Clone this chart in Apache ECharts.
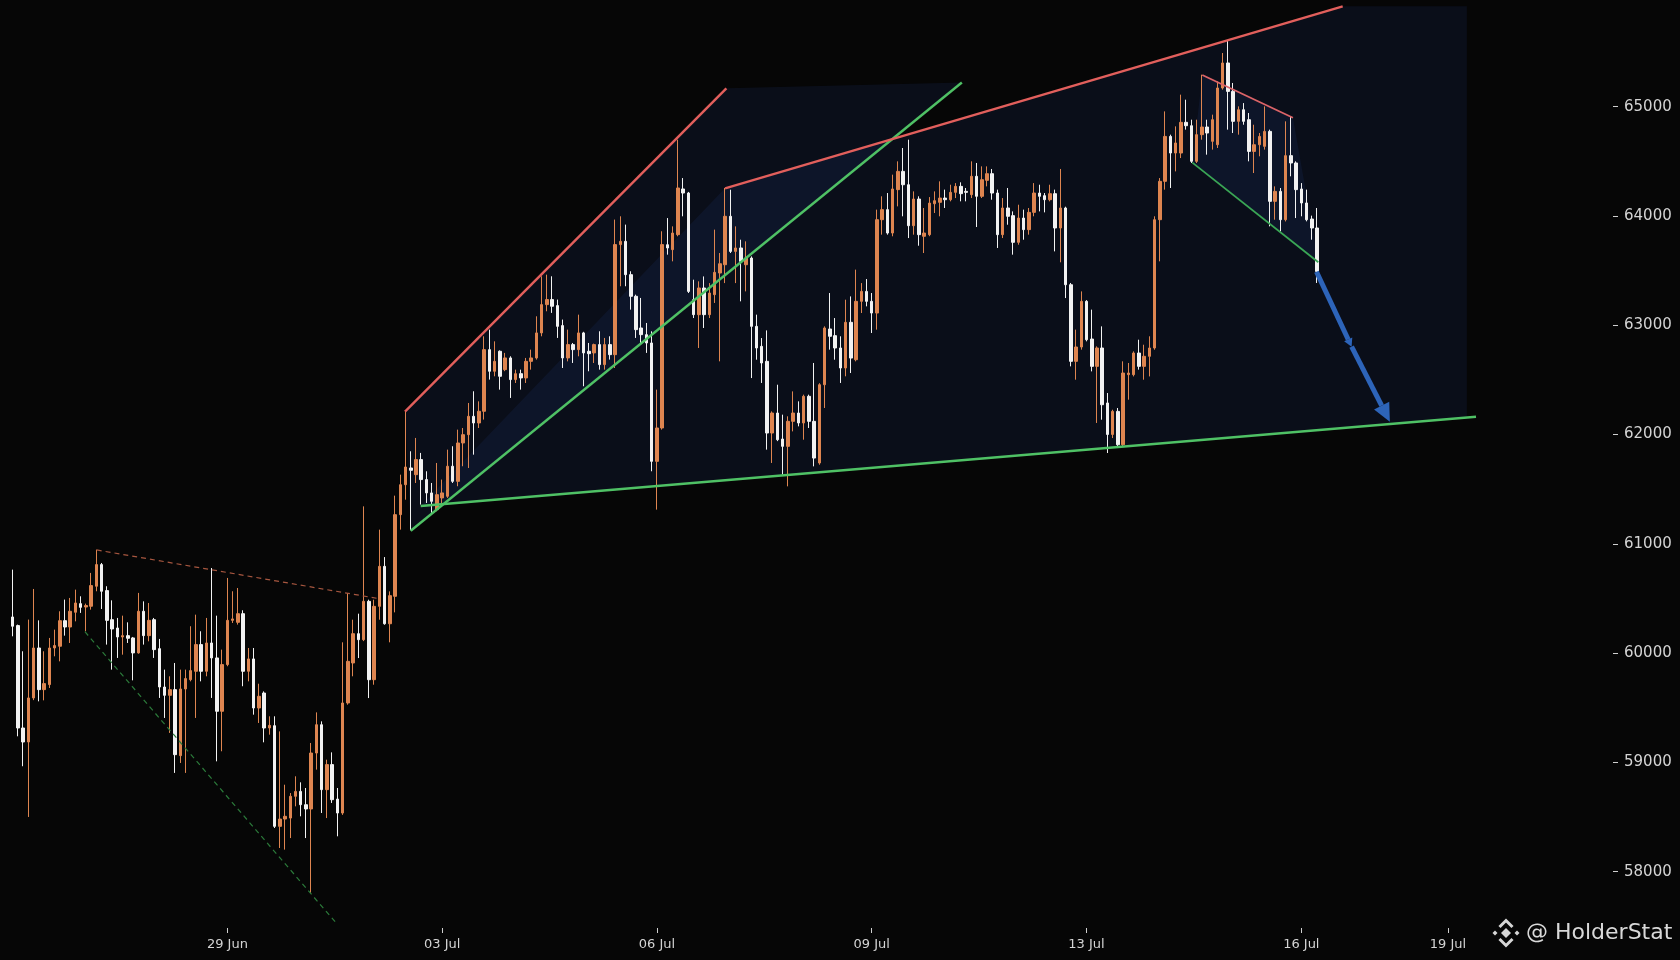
<!DOCTYPE html>
<html><head><meta charset="utf-8">
<script src="https://cdn.jsdelivr.net/npm/echarts@6/dist/echarts.min.js"></script>
<style>html,body{margin:0;padding:0;background:#060606;}#c{width:1680px;height:960px;}</style>
</head><body><div id="c"></div>
<script>
// [open, close, low, high]
const candles = [
[60331,60246,60154,60764],[60252,59315,59239,60261],[59315,59187,58965,60017],[59187,59590,58501,60307],[59590,60047,59570,60587],
[60047,59666,59559,60300],[59666,59721,59568,60017],[59712,60047,59681,60139],[60047,60069,59971,60215],[60063,60297,59925,60383],
[60297,60239,60160,60490],[60239,60383,60093,60505],[60374,60459,60291,60581],[60453,60419,60368,60520],[60422,60435,60200,60453],
[60429,60618,60398,60734],[60612,60810,60566,60947],[60810,60566,60404,60825],[60572,60300,60078,60612],[60306,60221,59849,60483],
[60230,60148,59956,60322],[60148,60160,59986,60343],[60160,60136,60093,60282],[60139,60002,59751,60148],[60002,60383,59995,60551],
[60383,60160,60078,60474],[60160,60300,60108,60459],[60306,60032,59956,60322],[60041,59690,59590,60130],[59690,59614,59407,59849],
[59614,59666,59270,59788],[59666,59071,58904,59910],[59062,59672,58995,59849],[59672,59767,58904,59849],[59757,59840,59742,60246],
[59834,60078,59407,60352],[60078,59834,59742,60200],[59834,60093,59788,60322],[60093,59956,59590,60779],[59956,59468,59010,60343],
[59468,59895,59102,60032],[59895,60300,59880,60688],[60300,60313,60276,60566],[60282,60361,60261,60596],[60361,59834,59697,60392],
[59834,59947,59742,60047],[59947,59498,59437,60047],[59498,59605,59361,59720],[59635,59315,59184,59650],[59315,59339,59254,59422],
[59336,58415,58400,59422],[58415,58482,58217,59284],[58482,58507,58202,58796],[58491,58690,58308,58720],[58690,58735,58598,58873],
[58735,58613,58507,58818],[58613,58574,58308,58766],[58574,59086,57805,59178],[59086,59345,58934,59458],[59345,58751,58537,59376],
[58751,58980,58491,59025],[58980,58659,58629,59092],[58665,58537,58324,58766],[58537,59544,58520,60099],[59544,59925,59528,60550],
[59910,60178,59788,60306],[60178,60123,59955,60361],[60123,60474,60110,61343],[60474,59757,59589,60489],[59757,60428,59711,60489],
[60428,60794,60306,61130],[60794,60269,60260,60879],[60269,60526,60099,60565],[60520,61267,60373,61441],[61267,61541,61130,61633],
[61541,61703,61404,62213],[61694,61673,61124,61847],[61633,61771,61557,61969],[61771,61588,61359,61832],[61588,61466,61374,61664],
[61466,61389,61267,61557],[61313,61450,61298,61740],[61420,61466,61374,61588],[61435,61710,61420,61862],[61710,61572,61557,61893],
[61572,61923,61527,62045],[61923,61999,61710,62060],[61999,62167,61694,62289],[62167,62106,61816,62396],[62106,62213,62060,62304],
[62213,62777,62137,62899],[62777,62579,62503,62960],[62579,62670,62533,62853],[62762,62533,62411,62770],[62594,62701,62580,62747],
[62701,62503,62335,62716],[62503,62557,62472,62594],[62557,62518,62411,62594],[62518,62670,62472,62701],[62670,62701,62594,62777],
[62701,62930,62686,63082],[62930,63189,62899,63448],[63189,63235,63128,63463],[63235,63174,63113,63448],[63180,62990,62884,63235],
[62997,62701,62609,63052],[62701,62823,62670,62960],[62823,62777,62655,62838],[62777,62930,62716,63097],[62930,62747,62442,62940],
[62762,62740,62579,62838],[62747,62823,62655,62832],[62823,62640,62594,62945],[62640,62823,62594,62884],[62823,62731,62686,62899],
[62731,63738,62609,63967],[63738,63768,63357,63997],[63768,63463,63357,63921],[63463,63265,63143,63494],[63265,62960,62884,63280],
[62975,62914,62823,63250],[62914,62838,62747,63021],[62838,61755,61664,62945],[61755,62060,61313,62411],[62060,63738,62045,63860],
[63737,63707,63646,63981],[63692,63844,63585,63905],[63829,64256,63814,64698],[64247,64210,63997,64347],[64210,63310,63295,64220],
[63234,63097,63066,63417],[63097,63341,62792,63402],[63341,63097,62975,63447],[63097,63295,63066,63386],[63280,63484,63204,63875],
[63478,63563,62670,63661],[63554,63997,63386,64256],[63997,63676,63661,64240],[63676,63707,63386,63905],[63707,63585,63219,63783],
[63554,63615,63310,63768],[63615,62990,62517,63630],[62990,62792,62685,63097],[62807,62655,62472,62883],[62670,62014,61862,62953],
[62014,62197,61740,62212],[62197,61953,61940,62456],[61959,61892,61633,62182],[61892,62121,61526,62167],[62121,62197,62029,62395],
[62197,62106,62075,62304],[62106,62350,61953,62365],[62350,62121,62060,62365],[62121,61785,61709,62655],[61740,62456,61724,62470],
[62456,62975,62243,62990],[62966,62899,62777,63295],[62905,62792,62685,63066],[62792,62609,62472,62899],[62609,63027,62533,63234],
[63027,62700,62563,63264],[62685,63219,62670,63509],[63219,63310,63112,63386],[63310,63219,63173,63423],[63219,63112,62929,63295],
[63112,63966,62960,64058],[63966,64058,63829,64180],[64058,63844,63829,64210],[63844,64247,63814,64378],[64241,64408,64088,64500],
[64408,64286,63997,64622],[64286,63911,63798,64698],[63911,64155,63829,64225],[64155,63829,63728,64180],[63814,63844,63661,64073],
[63829,64118,63815,64173],[64112,64140,64027,64225],[64125,64164,63997,64317],[64164,64149,64073,64241],[64149,64216,64134,64286],
[64216,64271,64164,64301],[64271,64204,64134,64308],[64225,64216,64134,64256],[64195,64363,64164,64500],[64363,64180,63899,64485],
[64180,64332,64164,64454],[64326,64387,64271,64454],[64387,64210,64149,64430],[64210,63829,63707,64241],[63829,64073,63798,64164],
[64073,63997,63920,64256],[64003,63759,63646,64042],[63759,63981,63737,64103],[63981,63875,63783,64058],[63875,64033,63829,64073],
[64033,64210,63997,64301],[64210,64180,64042,64286],[64186,64149,64033,64210],[64149,64204,64134,64286],[64204,63890,63676,64241],
[63890,64073,63576,64430],[64073,63371,63249,64085],[63371,62670,62624,63387],[62670,62801,62502,62960],[62801,63219,62777,63310],
[63219,62868,62853,63230],[62874,62624,62578,63143],[62624,62792,62106,62807],[62792,62273,62136,62990],[62289,62001,61831,62380],
[62001,62212,61968,62227],[62212,61907,61892,62243],[61907,62563,61892,62670],[62548,62563,62319,62655],[62548,62746,62532,62761],
[62746,62624,62594,62868],[62624,62716,62502,62822],[62716,62792,62532,62899],[62792,63966,62776,63997],[63966,64317,63585,64347],
[64317,64728,64241,64957],[64728,64576,64256,64744],[64576,64668,64408,64820],[64576,64857,64530,65110],[64857,64826,64790,65064],
[64826,64500,64485,64881],[64500,64744,64485,64881],[64744,64814,64698,65293],[64814,64759,64561,64881],[64683,64881,64607,64927],
[64652,65171,64622,65232],[65171,65400,65156,65491],[65400,65140,64790,65607],[65140,64866,64759,65217],[64866,64972,64744,65003],
[64972,64866,64835,65033],[64881,64591,64500,64942],[64591,64652,64393,64835],[64652,64728,64546,64759],[64637,64774,64607,65003],
[64774,64134,63905,64790],[64134,64225,63966,64271],[64225,63966,63859,64256],[63966,64552,63950,64866],[64552,64485,64363,64905],
[64485,64241,63981,64500],[64247,64119,63997,64301],[64119,63966,63951,64241],[63972,63890,63783,64003],[63890,63493,63387,64073]
];
const slotCount = 306;
const tickIdx = [41, 82, 123, 164, 205, 246, 274];
const tickText = ['29 Jun', '03 Jul', '06 Jul', '09 Jul', '13 Jul', '16 Jul', '19 Jul'];
const yTicks = [58000, 59000, 60000, 61000, 62000, 63000, 64000, 65000];

// drawings: [slot position, price]
const redLine1 = [[74.9, 62209], [136.25, 65168]];
const greenLine1 = [[76.0, 61120], [181.2, 65221]];
const redLine2 = [[136.0, 64253], [253.9, 65918]];
const supportLine = [[77.9, 61346], [279.35, 62163]];
const redLine3 = [[227.1, 65290], [244.4, 64899]];
const greenLine3 = [[225.2, 64488], [249.25, 63576]];
const dashRed = [[16.05, 60944], [69.5, 60502]];
const dashGreen = [[13.8, 60196], [61.6, 57540]];
const channelZone = [[74.9, 62209], [136.25, 65168], [181.2, 65221], [76.0, 61120]];
const wideZone = [[136.0, 64253], [253.9, 65918], [277.6, 65918], [277.6, 62156], [77.9, 61346]];
const wedgeZone = [[225.2, 64488], [227.1, 65290], [244.4, 64899], [249.25, 63576]];
const arrowPath = [[248.9, 63490], [255.6, 62804], [262.9, 62118]];

const zones = [channelZone, wideZone, wedgeZone];
const slots = Array.from({length: slotCount}, (_, i) => String(i));

const chart = echarts.init(document.getElementById('c'), null, {renderer: 'canvas'});

function seg(data, color, width, dashed) {
  return {
    type: 'line', xAxisIndex: 1, yAxisIndex: 0, data: data, symbol: 'none', silent: true, z: 3,
    lineStyle: {color: color, width: width, type: dashed ? [5, 4] : 'solid'}, animation: false
  };
}

const ARROW = '#2d64b9';
function arrowHead(a, b, len, half) {
  const dx = b[0] - a[0], dy = b[1] - a[1], L = Math.hypot(dx, dy), ux = dx / L, uy = dy / L;
  const bx = b[0] - ux * len, by = b[1] - uy * len;
  return {
    base: [bx, by],
    shape: {type: 'polygon', shape: {points: [[b[0], b[1]], [bx - uy * half, by + ux * half], [bx + uy * half, by - ux * half]]}, style: {fill: ARROW}}
  };
}

const option = {
  backgroundColor: '#060606',
  animation: false,
  grid: {left: 10, right: 67, top: -2.6, bottom: -21.0, containLabel: false, outerBoundsMode: 'none'},
  xAxis: [
    {
      type: 'category', data: slots, boundaryGap: true, offset: -53,
      axisLine: {show: false, onZero: false},
      axisTick: {show: true, alignWithLabel: true, interval: (i) => tickIdx.includes(i), length: 5, lineStyle: {color: '#cfcfcf', width: 1}},
      axisLabel: {
        interval: (i) => tickIdx.includes(i),
        formatter: (v) => { const k = tickIdx.indexOf(parseInt(v, 10)); return k >= 0 ? tickText[k] : ''; },
        margin: 10, color: '#d4d4d4', fontSize: 13, fontFamily: 'DejaVu Sans'
      },
      splitLine: {show: false}
    },
    {type: 'value', min: -0.5, max: slotCount - 0.5, show: false, axisLine: {onZero: false}}
  ],
  yAxis: {
    type: 'value', position: 'right', min: 57000, max: 66000, interval: 1000,
    axisLine: {show: false, onZero: false},
    axisTick: {show: true, length: 5, lineStyle: {color: '#cfcfcf', width: 1}},
    axisLabel: {
      margin: 11, color: '#d4d4d4', fontSize: 15, fontFamily: 'DejaVu Sans',
      formatter: (v) => yTicks.includes(v) ? String(v) : ''
    },
    splitLine: {show: false}
  },
  series: [
    {
      type: 'custom', xAxisIndex: 1, yAxisIndex: 0, z: 1, silent: true,
      data: zones.map((zn, k) => [zn[0][0], zn[0][1], k]),
      encode: {x: 0, y: 1},
      renderItem: (params, api) => ({
        type: 'polygon',
        shape: {points: zones[params.dataIndex].map(p => api.coord(p))},
        style: {fill: 'rgba(39,73,164,0.12)'}
      })
    },
    {
      type: 'candlestick', xAxisIndex: 0, yAxisIndex: 0, data: candles, barWidth: 3, z: 2, silent: true,
      itemStyle: {color: '#de8550', color0: '#f2f2f2', borderColor: '#de8550', borderColor0: '#f2f2f2', borderWidth: 1}
    },
    seg(dashRed, '#a6563f', 1.2, true),
    seg(dashGreen, '#2b7a3a', 1.2, true),
    seg(redLine1, '#e25f5c', 2.4),
    seg(greenLine1, '#4fc165', 2.4),
    seg(redLine2, '#e25f5c', 2.4),
    seg(supportLine, '#4fc165', 2.4),
    seg(redLine3, '#dc6468', 1.8),
    seg(greenLine3, '#3aa655', 1.8),
    {
      type: 'custom', xAxisIndex: 1, yAxisIndex: 0, z: 4, silent: true,
      data: [[arrowPath[0][0], arrowPath[0][1]]],
      encode: {x: 0, y: 1},
      renderItem: (params, api) => {
        const p = arrowPath.map(q => api.coord(q));
        const h1 = arrowHead(p[0], p[1], 8, 4.5);
        const h2 = arrowHead(p[1], p[2], 18, 8.5);
        return {
          type: 'group',
          children: [
            {type: 'line', shape: {x1: p[0][0], y1: p[0][1], x2: h1.base[0], y2: h1.base[1]}, style: {stroke: ARROW, lineWidth: 5}},
            h1.shape,
            {type: 'line', shape: {x1: p[1][0], y1: p[1][1], x2: h2.base[0], y2: h2.base[1]}, style: {stroke: ARROW, lineWidth: 5}},
            h2.shape
          ]
        };
      }
    }
  ],
  graphic: [
    {type: 'polygon', shape: {points: [[1506, 928], [1511, 933], [1506, 938], [1501, 933]]}, style: {fill: '#d6d6d6'}},
    {type: 'polygon', shape: {points: [[1495, 930.5], [1497.5, 933], [1495, 935.5], [1492.5, 933]]}, style: {fill: '#d6d6d6'}},
    {type: 'polygon', shape: {points: [[1517, 930.5], [1519.5, 933], [1517, 935.5], [1514.5, 933]]}, style: {fill: '#d6d6d6'}},
    {type: 'polyline', shape: {points: [[1499.5, 927], [1506, 920.5], [1512.5, 927]]}, style: {stroke: '#d6d6d6', lineWidth: 3, fill: null}},
    {type: 'polyline', shape: {points: [[1499.5, 939], [1506, 945.5], [1512.5, 939]]}, style: {stroke: '#d6d6d6', lineWidth: 3, fill: null}},
    {type: 'text', x: 1526, y: 933, style: {text: '@ HolderStat', fill: '#d9d9d9', font: '22px "DejaVu Sans"', textVerticalAlign: 'middle', verticalAlign: 'middle'}}
  ]
};
chart.setOption(option);
</script>
</body></html>
